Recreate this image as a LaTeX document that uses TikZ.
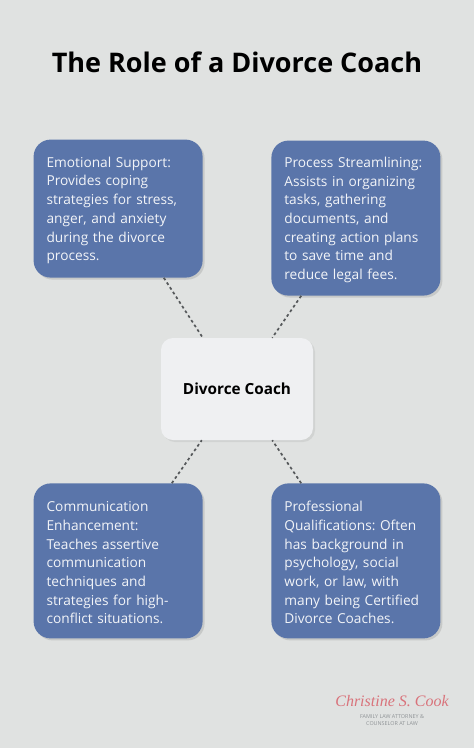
\documentclass[tikz,border=0pt]{standalone}
\usepackage{fontspec}
\setmainfont{Open Sans}
\newfontfamily\logofont{Liberation Serif}
\usepackage{xcolor}
\usetikzlibrary{positioning,shadows}
\definecolor{pagegray}{HTML}{E0E2E1}
\definecolor{cardblue}{HTML}{5A75AA}
\definecolor{coachwhite}{HTML}{EFF0F2}
\definecolor{linkgray}{HTML}{55585A}
\definecolor{logopink}{HTML}{D9737B}
\definecolor{logogray}{HTML}{8F9396}

\begin{document}
\begin{tikzpicture}[
  x=1pt, y=1pt,
  node distance=42pt,
  card/.style={fill=cardblue, text=white!92!cardblue, rounded corners=17pt, align=left,
               text width=143pt, inner xsep=13pt, inner ysep=0pt,
               font=\fontsize{13.7}{18.7}\selectfont\frenchspacing,
               execute at begin node=\rule{0pt}{14pt},
               drop shadow={shadow xshift=2pt, shadow yshift=-2pt, opacity=0.25}},
  shortcard/.style={card, minimum height=138pt},
  tallcard/.style={card, minimum height=155pt},
  coachbox/.style={fill=coachwhite, rounded corners=12pt, align=center,
                   minimum width=152pt, minimum height=102pt, inner sep=0pt,
                   font=\fontsize{15.3}{18}\selectfont\bfseries,
                   drop shadow={shadow xshift=2pt, shadow yshift=-2pt, opacity=0.15}},
  link/.style={draw=linkgray, line width=1.7pt, dash pattern=on 2.8pt off 2.8pt}
]
  \fill[pagegray] (0,0) rectangle (474,-748);
  \useasboundingbox (0,0) rectangle (474,-748);

  \node[font=\fontsize{27}{30}\selectfont\bfseries, text=black] (title) at (237,-62)
        {The Role of a Divorce Coach};

  % --- center and the four cards
  \node[coachbox] (coach) at (237,-389) {Divorce Coach};
  \node[shortcard] (emotional) [above left=60pt and -42pt of coach]
        {Emotional Support:\\Provides coping\\strategies for stress,\\anger, and anxiety\\during the divorce\\process.};
  \node[tallcard] (process) [above right=42pt and -42pt of coach]
        {Process Streamlining:\\Assists in organizing\\tasks, gathering\\documents, and\\creating action plans\\to save time and\\reduce legal fees.};
  \node[tallcard] (communication) [below left=43pt and -42pt of coach]
        {Communication\\Enhancement:\\Teaches assertive\\communication\\techniques and\\strategies for high-\\conflict situations.};
  \node[tallcard] (qualifications) [below right=43pt and -42pt of coach]
        {Professional\\Qualifications: Often\\has background in\\psychology, social\\work, or law, with\\many being Certified\\Divorce Coaches.};

  % --- dotted links
  \draw[link] ([xshift=-39pt]emotional.south east) -- ([xshift=42pt]coach.north west);
  \draw[link] ([xshift=30pt]process.south west) -- ([xshift=-41pt]coach.north east);
  \draw[link] ([xshift=-31pt]communication.north east) -- ([xshift=41pt]coach.south west);
  \draw[link] ([xshift=30pt]qualifications.north west) -- ([xshift=-41pt]coach.south east);

  % --- logo
  \node[font=\logofont\itshape\fontsize{16}{18}\selectfont, text=logopink] (logo) at (392,-701)
        {Christine S. Cook};
  \node[font=\fontsize{5.4}{6.4}\selectfont, text=logogray, align=center, below=1pt of logo] (logotext)
        {FAMILY LAW ATTORNEY \&\\COUNSELOR AT LAW};
\end{tikzpicture}
\end{document}
